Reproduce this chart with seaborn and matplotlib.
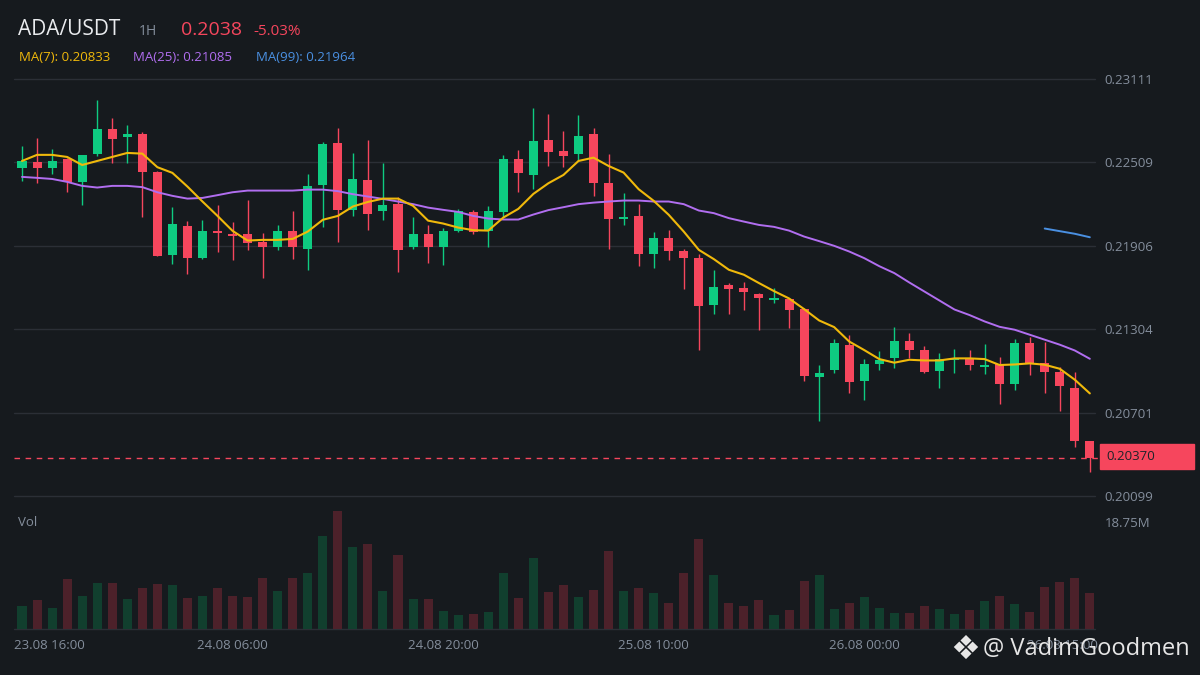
import numpy as np
import pandas as pd
import matplotlib
matplotlib.use("Agg")
import matplotlib.pyplot as plt
from matplotlib.patches import Rectangle
from matplotlib.transforms import ScaledTranslation
import seaborn as sns

# hourly candles ADA/USDT, 23.08 16:00 -> 26.08 15:00
opens = [0.22471, 0.22512, 0.22471, 0.22534, 0.22370, 0.22572, 0.22750, 0.22695, 0.22714, 0.22442,
         0.21843, 0.22050, 0.21821, 0.22014, 0.21993, 0.21993, 0.21935, 0.21894, 0.22014, 0.21886,
         0.22348, 0.22649, 0.22168, 0.22382, 0.22161, 0.22211, 0.21894, 0.21993, 0.21901, 0.22016,
         0.22151, 0.22016, 0.22153, 0.22534, 0.22420, 0.22671, 0.22591, 0.22572, 0.22714, 0.22360,
         0.22103, 0.22122, 0.21850, 0.21964, 0.21870, 0.21819, 0.21482, 0.21624, 0.21603, 0.21560,
         0.21518, 0.21521, 0.21451, 0.20956, 0.21006, 0.21192, 0.20927, 0.21049, 0.21093, 0.21220,
         0.21155, 0.20999, 0.21078, 0.21098, 0.21031, 0.21054, 0.20905, 0.21206, 0.21062, 0.20992,
         0.20881, 0.20494]
highs = [0.22627, 0.22685, 0.22606, 0.22541, 0.22563, 0.22959, 0.22830, 0.22779, 0.22729, 0.22447,
         0.22187, 0.22086, 0.22094, 0.22202, 0.22079, 0.22238, 0.22000, 0.22057, 0.22158, 0.22425,
         0.22656, 0.22757, 0.22577, 0.22671, 0.22505, 0.22259, 0.22115, 0.22057, 0.22036, 0.22173,
         0.22166, 0.22195, 0.22563, 0.22599, 0.22902, 0.22858, 0.22736, 0.22851, 0.22757, 0.22570,
         0.22288, 0.22209, 0.22007, 0.22021, 0.21884, 0.21848, 0.21733, 0.21641, 0.21646, 0.21567,
         0.21598, 0.21523, 0.21455, 0.21047, 0.21235, 0.21264, 0.21091, 0.21148, 0.21321, 0.21278,
         0.21184, 0.21134, 0.21163, 0.21155, 0.21199, 0.21105, 0.21235, 0.21249, 0.21213, 0.21028,
         0.20992, 0.20496]
lows = [0.22377, 0.22363, 0.22428, 0.22298, 0.22204, 0.22558, 0.22507, 0.22507, 0.22117, 0.21829,
        0.21778, 0.21706, 0.21814, 0.21858, 0.21807, 0.21879, 0.21677, 0.21879, 0.21814, 0.21735,
        0.22045, 0.21937, 0.22125, 0.22023, 0.22096, 0.21720, 0.21886, 0.21785, 0.21764, 0.22009,
        0.21995, 0.21894, 0.22117, 0.22298, 0.22319, 0.22485, 0.22478, 0.22521, 0.22269, 0.21886,
        0.22060, 0.21757, 0.21749, 0.21807, 0.21591, 0.21150, 0.21410, 0.21410, 0.21446, 0.21295,
        0.21490, 0.21309, 0.20927, 0.20638, 0.20984, 0.20840, 0.20790, 0.21006, 0.21021, 0.21098,
        0.20984, 0.20876, 0.20984, 0.21006, 0.20977, 0.20761, 0.20862, 0.20970, 0.20840, 0.20710,
        0.20450, 0.20270]
closes = [0.22519, 0.22471, 0.22519, 0.22370, 0.22563, 0.22750, 0.22680, 0.22714, 0.22442, 0.21836,
          0.22065, 0.21821, 0.22014, 0.22002, 0.21980, 0.21923, 0.21901, 0.22014, 0.21894, 0.22339,
          0.22642, 0.22168, 0.22389, 0.22139, 0.22202, 0.21879, 0.21993, 0.21901, 0.22014, 0.22158,
          0.22009, 0.22158, 0.22534, 0.22435, 0.22664, 0.22586, 0.22558, 0.22700, 0.22363, 0.22103,
          0.22115, 0.21850, 0.21964, 0.21872, 0.21821, 0.21468, 0.21610, 0.21591, 0.21569, 0.21526,
          0.21529, 0.21439, 0.20963, 0.20989, 0.21206, 0.20919, 0.21054, 0.21083, 0.21220, 0.21150,
          0.20992, 0.21091, 0.21098, 0.21042, 0.21042, 0.20905, 0.21206, 0.21057, 0.20992, 0.20891,
          0.20494, 0.20370]

# volume in millions
volume = [4.09, 5.14, 3.74, 8.82, 5.84, 8.12, 8.12, 5.31, 7.24, 7.94,
          7.77, 5.49, 5.84, 7.24, 5.84, 5.66, 8.99, 6.72, 8.99, 9.87,
          16.35, 20.73, 14.42, 14.95, 6.72, 13.02, 5.31, 5.31, 3.21, 2.51,
          2.69, 3.04, 9.87, 5.49, 12.50, 6.54, 7.77, 5.66, 6.89, 13.72,
          6.72, 7.24, 6.37, 4.61, 9.87, 15.83, 9.52, 4.61, 4.09, 5.14,
          2.51, 3.39, 8.47, 9.52, 3.56, 4.61, 5.66, 3.74, 2.86, 2.86,
          4.09, 3.56, 2.69, 3.39, 4.96, 5.84, 4.44, 3.04, 7.42, 8.29,
          8.99, 6.37]

# moving averages as drawn on the chart
ma7 = [0.22519, 0.22563, 0.22563, 0.22548, 0.22490, 0.22519, 0.22548, 0.22577, 0.22572, 0.22474,
       0.22433, 0.22334, 0.22226, 0.22122, 0.22014, 0.21944, 0.21949, 0.21949, 0.21956, 0.22009,
       0.22094, 0.22122, 0.22190, 0.22223, 0.22247, 0.22247, 0.22195, 0.22088, 0.22067, 0.22038,
       0.22019, 0.22016, 0.22110, 0.22173, 0.22281, 0.22358, 0.22418, 0.22519, 0.22543, 0.22483,
       0.22435, 0.22315, 0.22231, 0.22130, 0.22009, 0.21877, 0.21810, 0.21733, 0.21697, 0.21637,
       0.21579, 0.21526, 0.21449, 0.21367, 0.21319, 0.21215, 0.21153, 0.21088, 0.21062, 0.21083,
       0.21078, 0.21078, 0.21093, 0.21093, 0.21088, 0.21045, 0.21049, 0.21057, 0.21047, 0.21018,
       0.20939, 0.20840]
ma25 = [0.22404, 0.22397, 0.22389, 0.22368, 0.22339, 0.22327, 0.22339, 0.22339, 0.22330, 0.22293,
        0.22267, 0.22247, 0.22252, 0.22272, 0.22293, 0.22305, 0.22305, 0.22305, 0.22305, 0.22312,
        0.22312, 0.22301, 0.22279, 0.22262, 0.22245, 0.22226, 0.22207, 0.22182, 0.22166, 0.22151,
        0.22122, 0.22103, 0.22096, 0.22096, 0.22132, 0.22164, 0.22185, 0.22207, 0.22218, 0.22226,
        0.22233, 0.22233, 0.22226, 0.22226, 0.22207, 0.22161, 0.22142, 0.22106, 0.22081, 0.22057,
        0.22043, 0.22016, 0.21973, 0.21940, 0.21906, 0.21865, 0.21817, 0.21759, 0.21709, 0.21641,
        0.21576, 0.21511, 0.21446, 0.21406, 0.21360, 0.21321, 0.21300, 0.21264, 0.21228, 0.21192,
        0.21150, 0.21090]
ma99 = [0.22031, 0.22012, 0.21993, 0.21968]
ma99_start = 68

price_ticks = [0.20099, 0.20701, 0.21304, 0.21906, 0.22509, 0.23111]
time_ticks = [0, 14, 28, 42, 56, 71]
time_labels = ["23.08 16:00", "24.08 06:00", "24.08 20:00", "25.08 10:00", "26.08 00:00", "26.08 15:00"]
vol_tick = 18.75

BG = "#161a1e"
GRID = "#2b2f36"
UP, DOWN = "#0ecb81", "#f6465d"
UP_VOL, DOWN_VOL = "#113f2e", "#4c212a"
C7, C25, C99 = "#f0b90b", "#b16ef0", "#4a90e2"
TXT = "#848e9c"

sns.set_style("dark", {"axes.facecolor": BG, "figure.facecolor": BG})
plt.rcParams["font.family"] = ["Open Sans", "DejaVu Sans"]

df = pd.DataFrame({"idx": np.arange(len(closes)), "open": opens, "high": highs,
                   "low": lows, "close": closes, "vol": np.array(volume) * 1e6,
                   "ma7": ma7, "ma25": ma25})
df["dir"] = np.where(df["close"] >= df["open"], "up", "down")

W, H = 1200, 675
fig = plt.figure(figsize=(12, 6.75), dpi=100)


def fx(x):
    return x / W


def fy(y):
    return 1 - y / H


ax = fig.add_axes([fx(14), fy(500), 1081 / W, 430 / H])
axv = fig.add_axes([fx(14), fy(629), 1081 / W, 124 / H])
for a in (ax, axv):
    a.set_facecolor(BG)
    for s in a.spines.values():
        s.set_visible(False)

xmin = -8 / 15.04
xmax = xmin + 1081 / 15.04

# grid
for t in price_ticks:
    ax.axhline(t, color=GRID, lw=1, zorder=0, clip_on=False)

# candles
cols = np.where(df["dir"] == "up", UP, DOWN)
ax.vlines(df["idx"], df["low"], df["high"], colors=cols, lw=1.0, zorder=2)
body_lo = np.minimum(df["open"], df["close"])
body_h = np.maximum(np.abs(df["close"] - df["open"]), 0.00012)
ax.bar(df["idx"], body_h, bottom=body_lo, width=0.6, color=cols, linewidth=0, zorder=3)

# moving averages
sns.lineplot(data=df, x="idx", y="ma25", ax=ax, color=C25, lw=1.4, zorder=4)
sns.lineplot(data=df, x="idx", y="ma7", ax=ax, color=C7, lw=1.5, zorder=5)
sns.lineplot(x=np.arange(ma99_start, ma99_start + len(ma99)), y=ma99, ax=ax, color=C99, lw=1.4, zorder=4)

# last price line
ax.axhline(closes[-1], xmin=0, xmax=(1100 - 14) / 1081, color=DOWN, lw=1,
           ls=(0, (4, 4)), clip_on=False, zorder=6)

ax.set_xlim(xmin, xmax)
ax.set_ylim(0.200701, 0.231760)
ax.set_xticks([])
ax.set_xlabel("")
ax.set_ylabel("")
ax.yaxis.tick_right()
ax.set_yticks(price_ticks)
ax.set_yticklabels([f"{t:.5f}" for t in price_ticks])
ax.tick_params(axis="y", length=0, pad=7, labelsize=9.5, labelcolor=TXT)
ax.grid(False)

# volume
sns.barplot(data=df, x="idx", y="vol", hue="dir", palette={"up": UP_VOL, "down": DOWN_VOL},
            native_scale=True, width=0.6, dodge=False, legend=False, errorbar=None,
            saturation=1, linewidth=0, ax=axv)
axv.axhline(0, color=GRID, lw=1, clip_on=False, zorder=0)
axv.set_xlim(xmin, xmax)
axv.set_ylim(0, 21.72e6)
axv.set_xlabel("")
axv.set_ylabel("")
axv.yaxis.tick_right()
axv.set_yticks([vol_tick * 1e6])
axv.set_yticklabels([f"{vol_tick}M"])
axv.set_xticks(time_ticks)
axv.set_xticklabels(time_labels)
axv.tick_params(axis="y", length=0, pad=7, labelsize=9.5, labelcolor=TXT)
axv.tick_params(axis="x", length=0, pad=7, labelsize=9.5, labelcolor=TXT)
axv.grid(False)
xl = axv.get_xticklabels()
xl[0].set_horizontalalignment("left")
xl[0].set_transform(xl[0].get_transform() + ScaledTranslation(-8 / 100, 0, fig.dpi_scale_trans))
xl[-1].set_horizontalalignment("right")
xl[-1].set_transform(xl[-1].get_transform() + ScaledTranslation(8 / 100, 0, fig.dpi_scale_trans))

# header
fig.text(fx(18), fy(35), "ADA/USDT", fontsize=15, color="#eaecef", va="baseline")
fig.text(fx(139), fy(35), "1H", fontsize=10, color=TXT, va="baseline")
fig.text(fx(181), fy(35), "0.2038", fontsize=14, color=DOWN, va="baseline")
fig.text(fx(253), fy(35), "-5.03%", fontsize=11, color=DOWN, va="baseline")
fig.text(fx(19), fy(61), f"MA(7): {0.20833:.5f}", fontsize=9.5, color=C7, va="baseline")
fig.text(fx(133), fy(61), f"MA(25): {0.21085:.5f}", fontsize=9.5, color=C25, va="baseline")
fig.text(fx(256), fy(61), f"MA(99): {0.21964:.5f}", fontsize=9.5, color=C99, va="baseline")
fig.text(fx(18), fy(522), "Vol", fontsize=9.5, color=TXT, va="center")

# current price tag
fig.patches.append(Rectangle((fx(1100), fy(469)), 94 / W, 25 / H, transform=fig.transFigure,
                             color=DOWN, zorder=5))
fig.text(fx(1106), fy(457), f"{closes[-1]:.5f}", fontsize=9.5, color="#1e2329", va="center", zorder=6)

# watermark
fig.text(fx(965), fy(649), "\u2756", fontsize=24, color="#e6e6e6", ha="center", va="center",
         family=["DejaVu Sans"], zorder=10)
fig.text(fx(1190), fy(649), "@ VadimGoodmen", fontsize=17, color="#e6e6e6", ha="right",
         va="center", zorder=10)

fig.savefig("out.png", dpi=100, facecolor=BG)
